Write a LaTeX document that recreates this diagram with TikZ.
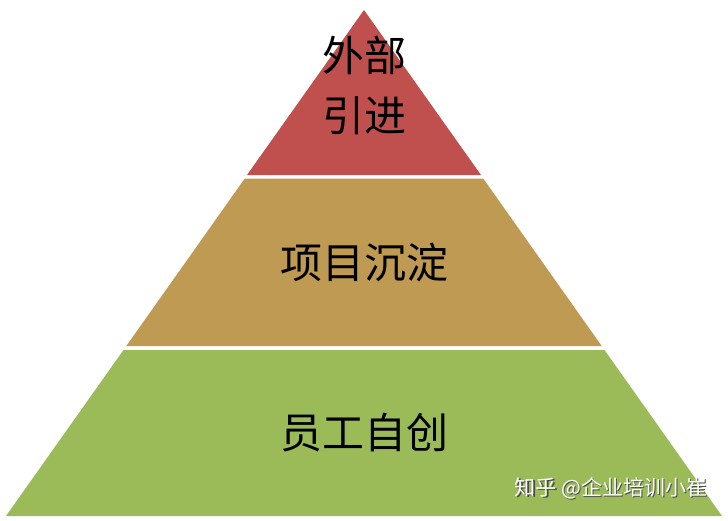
\documentclass[tikz,border=0pt]{standalone}
\usepackage{fontspec}
\setmainfont{Noto Sans CJK SC}
\definecolor{tierred}{HTML}{C0504D}
\definecolor{tiertan}{HTML}{BF9A52}
\definecolor{tiergreen}{HTML}{9BBB59}
\definecolor{shadowgray}{HTML}{4A4A4A}
\begin{document}
\begin{tikzpicture}[x=1pt,y=-1pt,
  tiertext/.style={font=\fontsize{42}{60}\selectfont, text=black, align=center, inner sep=0pt},
  wmtext/.style={font=\fontsize{21}{24}\selectfont, inner sep=0pt}]
\useasboundingbox (0,0) rectangle (728,520);
\fill[white] (0,0) rectangle (728,520);
% tiers
\fill[tierred] (364,10) -- (481,175) -- (247,175) -- cycle;
\fill[tiertan] (244.8,178.5) -- (483.2,178.5) -- (601.7,346) -- (126.3,346) -- cycle;
\fill[tiergreen] (123.5,350) -- (604.5,350) -- (722,516) -- (6,516) -- cycle;
% labels
\node[tiertext] (top) at (364,85) {外部\\引进};
\node[tiertext] (mid) at (364,262) {项目沉淀};
\node[tiertext] (bot) at (364,433) {员工自创};
% watermark
\node[wmtext, text=shadowgray] (wmshadow) at (612.5,489.5) {知乎 @企业培训小崔};
\node[wmtext, text=white] (wm) at (611,488) {知乎 @企业培训小崔};
\end{tikzpicture}
\end{document}
